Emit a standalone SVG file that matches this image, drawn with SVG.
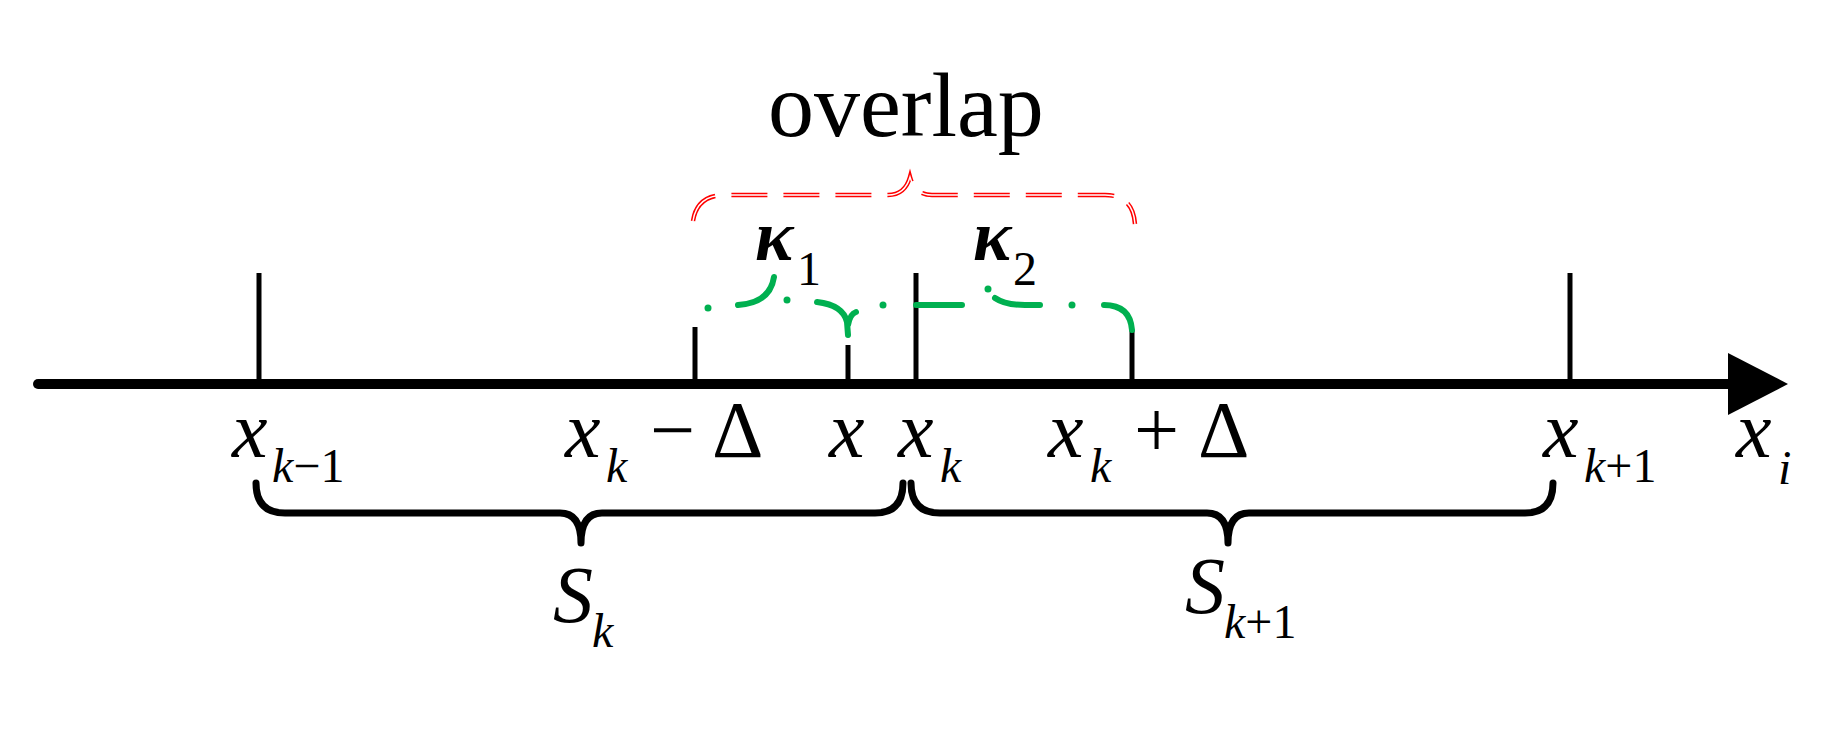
<svg xmlns="http://www.w3.org/2000/svg" width="1822" height="745" viewBox="0 0 1822 745">
<style>
.t{font-family:"Liberation Serif","DejaVu Serif",serif;fill:#000}
.i{font-style:italic}
.big{font-size:80px}
.sub{font-size:48px}
.tick{stroke:#000;stroke-width:5;fill:none}
.brace{stroke:#000;stroke-width:7;fill:none;stroke-linecap:round;stroke-linejoin:round}
.green{stroke:#00b050;stroke-width:6;fill:none;stroke-linecap:round}
.dot{fill:#00b050}
.red{stroke:#ff0000;stroke-width:4.5;fill:none;stroke-dasharray:36 16}
.redin{stroke:#fff;stroke-width:1.4;fill:none}
</style>
<rect width="1822" height="745" fill="#fff"/>
<g id="axis">
<line x1="38" y1="384" x2="1735" y2="384" stroke="#000" stroke-width="10" stroke-linecap="round"/>
<polygon points="1728,353 1788,384 1728,415" fill="#000"/>
<text class="t i big" x="1736" y="457">x</text><text class="t i sub" x="1778" y="484">i</text>
</g>
<g id="ticks">
<line class="tick" x1="259" y1="273" x2="259" y2="384"/>
<line class="tick" x1="695" y1="327" x2="695" y2="384"/>
<line class="tick" x1="848" y1="345" x2="848" y2="384"/>
<line class="tick" x1="916" y1="273" x2="916" y2="384" stroke-width="6"/>
<line class="tick" x1="1132" y1="330" x2="1132" y2="384"/>
<line class="tick" x1="1570" y1="273" x2="1570" y2="384"/>
</g>
<g id="labels">
<text class="t i big" x="232" y="457">x</text><text class="t sub" x="272" y="482"><tspan font-style="italic">k</tspan>−1</text>
<text class="t i big" x="565" y="457">x</text><text class="t i sub" x="606" y="482">k</text><text class="t big" x="650" y="457">−</text><text class="t big" x="712" y="457">Δ</text>
<text class="t i big" x="829" y="457">x</text>
<text class="t i big" x="898" y="457">x</text><text class="t i sub" x="940" y="482">k</text>
<text class="t i big" x="1048" y="457">x</text><text class="t i sub" x="1090" y="482">k</text><text class="t big" x="1134" y="457">+</text><text class="t big" x="1198" y="457">Δ</text>
<text class="t i big" x="1543" y="457">x</text><text class="t sub" x="1584" y="482"><tspan font-style="italic">k</tspan>+1</text>
</g>
<g id="braces">
<path class="brace" d="M256,483 Q256,513 285,513 H560 Q581,513 581,543 Q581,513 602,513 H875 Q903,513 903,483"/>
<path class="brace" d="M911,483 Q911,513 940,513 H1207 Q1228,513 1228,543 Q1228,513 1249,513 H1525 Q1553,513 1553,483"/>
<text class="t i" font-size="80" x="553" y="622">S</text><text class="t i sub" x="592" y="647">k</text>
<text class="t i" font-size="80" x="1185" y="613">S</text><text class="t sub" x="1224" y="638"><tspan font-style="italic">k</tspan>+1</text>
</g>
<g id="overlap">
<text class="t" font-size="92" x="768" y="136">overlap</text>
<path class="red" d="M693,221 Q697,195 725,195 H888 Q905,195 910,177 Q915,195 932,195 H1105 Q1133,195 1135,224"/>
<path class="redin" d="M693,221 Q697,195 725,195 H888 Q905,195 910,177 Q915,195 932,195 H1105 Q1133,195 1135,224"/>
</g>
<g id="kappa">
<text class="t i" font-weight="bold" font-size="72" x="755" y="260">κ</text><text class="t sub" x="797" y="285">1</text>
<text class="t i" font-weight="bold" font-size="72" x="973" y="260">κ</text><text class="t sub" x="1013" y="285">2</text>
<path class="green" d="M738,305 Q770,303 774,277"/>
<path class="green" d="M817,302 Q843,305 847,322 L848,335 M848,325 Q850,314 856,312"/>
<path class="green" d="M916,305 H962 M995,298 Q1005,305 1025,305 H1040 M1104,305 Q1130,305 1132,330"/>
<circle class="dot" cx="708" cy="308" r="3.5"/>
<circle class="dot" cx="787" cy="300" r="3.5"/>
<circle class="dot" cx="883" cy="305" r="3.5"/>
<circle class="dot" cx="988" cy="289" r="3.5"/>
<circle class="dot" cx="1072" cy="305" r="3.5"/>
</g>
</svg>
